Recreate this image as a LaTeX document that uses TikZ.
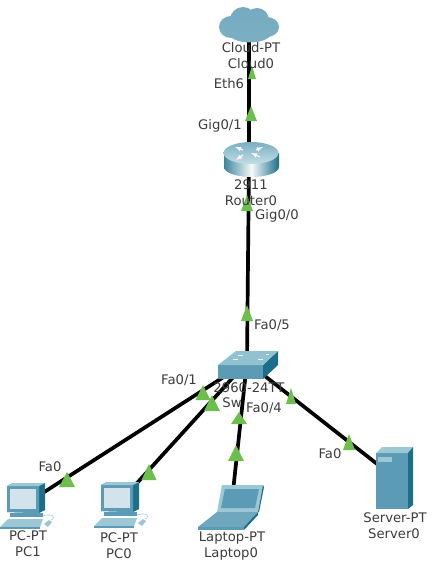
\documentclass[tikz,border=0pt]{standalone}
\usepackage{fontspec}
\setmainfont{DejaVu Sans}
\definecolor{tealF}{HTML}{5C9BB5}
\definecolor{tealD}{HTML}{1B6F88}
\definecolor{tealL}{HTML}{9CC7D4}
\definecolor{scr}{HTML}{D3E3EB}
\definecolor{flag}{HTML}{6CBF4B}
\definecolor{txt}{HTML}{3C3C3C}
\tikzset{
  anchorbox/.style={inner sep=0pt,minimum size=2pt},
  wire/.style={line width=3.7pt,black},
  lbl/.style={text=txt,font=\fontsize{13.2}{15}\selectfont,inner sep=0pt},
  pics/pcicon/.style={code={
    \fill[tealD] (-17,-19) -- (-11,-22) -- (21,-22) -- (21,5) -- (15,8) -- (-17,7) -- cycle;
    \fill[tealF] (-17,-19) -- (15,-19) -- (15,8) -- (-17,7) -- cycle;
    \fill[tealL] (-17,-19) -- (-11,-22) -- (21,-22) -- (15,-19) -- cycle;
    \fill[scr] (-14,-16) -- (12,-16) -- (12,4) -- (-14,4) -- cycle;
    \fill[tealF] (-14,8) -- (19,8) -- (19,12) -- (-14,12) -- cycle;
    \fill[tealL] (-24,22) -- (-16,14) -- (19,14) -- (16,22) -- cycle;
    \fill[tealF] (-24,22) -- (16,22) -- (16,24) -- (-24,24) -- cycle;
    \fill[tealL] (20,19) -- (25,15) -- (28,17) -- (24,22) -- cycle;
    \draw[tealL,line width=.6pt] (19,11) .. controls (28,8) and (33,12) .. (27,15);
  }}
}
\newcommand{\lnkflag}[4]{\fill[flag] (#1-#4/2,#3) -- (#1,#2) -- (#1+#4/2,#3) -- cycle;}
\begin{document}
\begin{tikzpicture}[x=1pt,y=-1pt]
\useasboundingbox (0,0) rectangle (438,574);
% anchors
\node[anchorbox] (cloud) at (249,25) {};
\node[anchorbox] (router) at (249,160) {};
\node[anchorbox] (switch) at (247,362) {};
\node[anchorbox] (pc1) at (24,505) {};
\node[anchorbox] (pc0) at (118,504) {};
\node[anchorbox] (laptop) at (231,510) {};
\node[anchorbox] (server) at (395,478) {};
% connectors
\draw[wire] (cloud) -- (router);
\draw[wire] (router) -- (switch);
\draw[wire] (switch) -- (pc1);
\draw[wire] (switch) -- (pc0);
\draw[wire] (switch) -- (laptop);
\draw[wire] (switch) -- (server);
% cloud
\shade[top color=tealF!85!white,bottom color=tealF!80!white]
  (231,27) ellipse [x radius=12,y radius=11]
  (243,20) ellipse [x radius=13,y radius=13]
  (257,20) ellipse [x radius=12,y radius=12]
  (267,27) ellipse [x radius=12,y radius=10]
  (250,32) ellipse [x radius=22,y radius=10.5];
% router
\shade[left color=tealD!85!white,right color=tealD,middle color=white!90!tealL]
  (224,153) -- (224,167) arc [start angle=180,end angle=0,x radius=27.5,y radius=10] -- (279,153) -- cycle;
\shade[top color=tealF!55!tealL,bottom color=tealL!60!white] (251,153) ellipse [x radius=27.5,y radius=11];
\begin{scope}[white!92!tealL,line width=1.1pt,-latex]
  \draw (243,150) -- (235,147);
  \draw (256,150) -- (263,147);
  \draw (260,157) -- (251,153);
  \draw (243,155) -- (236,160);
\end{scope}
% switch
\fill[tealF] (218,365) -- (263,365) -- (263,379) -- (218,379) -- cycle;
\fill[tealD] (263,365) -- (278,351) -- (278,365) -- (263,379) -- cycle;
\fill[tealL!85!tealF] (218,365) -- (236,351) -- (278,351) -- (263,365) -- cycle;
\begin{scope}[white!80!tealL,line width=.7pt]
  \draw (233,359) -- (238,359);
  \draw (266,354) -- (269,354);
  \draw (258,359) -- (263,359);
  \draw (238,355) -- (243,355);
\end{scope}
% PCs
\pic at (pc1) {pcicon};
\pic at (pc0) {pcicon};
% laptop
\fill[tealL] (222,485) -- (263,485) -- (258,512) -- (217,512) -- cycle;
\fill[tealF] (225,489) -- (259,489) -- (255,508) -- (221,508) -- cycle;
\fill[tealD] (263,485) -- (264,487) -- (259,512) -- (258,512) -- cycle;
\fill[tealF!70!tealL] (198,527) -- (217,512) -- (258,512) -- (244,527) -- cycle;
\fill[tealD] (258,512) -- (258,515) -- (244,530) -- (244,527) -- cycle;
\fill[tealF] (198,527) -- (244,527) -- (244,530) -- (198,530) -- cycle;
% server
\fill[tealF] (376,453) -- (408,453) -- (408,509) -- (376,509) -- cycle;
\fill[tealL] (376,453) -- (382,447) -- (413,447) -- (408,453) -- cycle;
\fill[tealD] (408,453) -- (413,447) -- (413,505) -- (408,509) -- cycle;
\fill[tealL] (378,457) rectangle (392,462);
% link flags
\lnkflag{252}{66}{79}{8}
\lnkflag{251}{106}{121}{12}
\lnkflag{247}{195}{211}{12}
\lnkflag{247}{305}{321}{12}
\lnkflag{203}{385}{400}{15}
\lnkflag{212}{395}{411}{16}
\lnkflag{239}{412}{424}{16}
\lnkflag{236}{445}{461}{16}
\lnkflag{291}{388}{404}{10}
\lnkflag{349}{434}{450}{12}
\lnkflag{67}{472}{487}{16}
\lnkflag{149}{464}{480}{15}
% labels
\node[lbl] (cloudA) at (251,48) {Cloud-PT};
\node[lbl] (cloudB) at (251,64) {Cloud0};
\node[lbl] (eth6) at (229,84) {Eth6};
\node[lbl] (gig01) at (220,126) {Gig0/1};
\node[lbl] (routerA) at (251,185) {2911};
\begin{scope}
  \clip (200,190) rectangle (300,206);
  \node[lbl] (routerB) at (251,201) {Router0};
\end{scope}
\node[lbl] (gig00) at (277,216) {Gig0/0};
\node[lbl] (fa05) at (272,325) {Fa0/5};
\node[lbl] (fa01) at (179,380) {Fa0/1};
\node[lbl] (switchA) at (249,388) {2960-24TT};
\node[lbl] (switchB) at (232,403) {Sw};
\node[lbl] (fa04) at (264,408) {Fa0/4};
\node[lbl] (fa0a) at (50,467) {Fa0};
\node[lbl] (fa0b) at (330,454) {Fa0};
\node[lbl] (pc1A) at (28,536) {PC-PT};
\node[lbl] (pc1B) at (28,552) {PC1};
\node[lbl] (pc0A) at (119,538) {PC-PT};
\node[lbl] (pc0B) at (119,554) {PC0};
\node[lbl] (laptopA) at (232,538) {Laptop-PT};
\node[lbl] (laptopB) at (231,554) {Laptop0};
\node[lbl] (serverA) at (395,518) {Server-PT};
\node[lbl] (serverB) at (394,534) {Server0};
\end{tikzpicture}
\end{document}
